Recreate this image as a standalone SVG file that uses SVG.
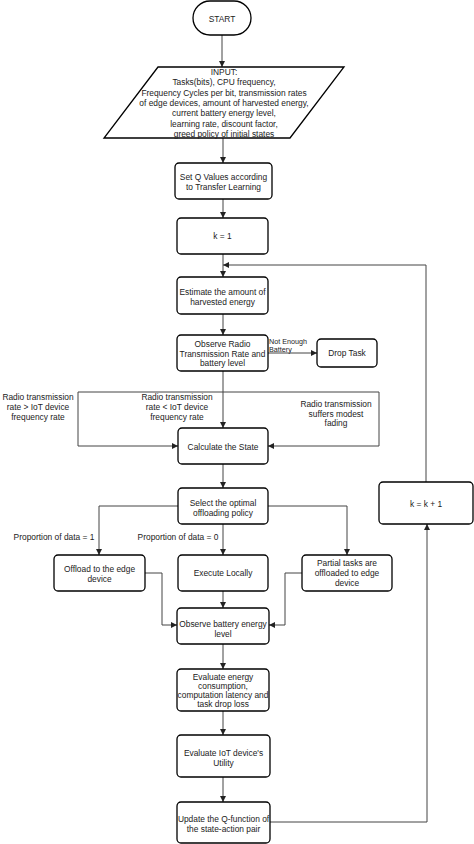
<svg xmlns="http://www.w3.org/2000/svg" width="474" height="844" viewBox="0 0 474 844">
<defs>
<style>
.n{fill:#fff;stroke:#000;stroke-width:1.3}
.t{font-family:"Liberation Sans",Arial,sans-serif;font-size:8.4px;fill:#222;text-anchor:middle}
.s{font-family:"Liberation Sans",Arial,sans-serif;font-size:7.2px;fill:#222}
.c{fill:none;stroke:#444;stroke-width:1}
.a{marker-end:url(#ar)}
</style>
<marker id="ar" markerUnits="userSpaceOnUse" markerWidth="8" markerHeight="8" refX="6" refY="3" orient="auto">
<path d="M0,0 L6,3 L0,6 Z" fill="#222"/>
</marker>
</defs>
<rect width="474" height="844" fill="#fff"/>
<g id="connectors">
<path class="c a" d="M222 35 V67"/>
<path class="c a" d="M223 138 V163"/>
<path class="c a" d="M223 199 V218"/>
<path class="c a" d="M223 254 V277"/>
<path class="c a" d="M223 314 V335"/>
<path class="c a" d="M268 353 H317"/>
<path class="c a" d="M223 371 V428"/>
<path class="c a" d="M223 392 H78 V446 H178"/>
<path class="c a" d="M223 392 H379 V446 H268"/>
<path class="c a" d="M223 464 V488"/>
<path class="c a" d="M178 506 H99 V555"/>
<path class="c a" d="M223 524 V555"/>
<path class="c a" d="M268 506 H347 V555"/>
<path class="c a" d="M145 573 H162 V625 H177"/>
<path class="c a" d="M223 591 V608"/>
<path class="c a" d="M302 573 H285 V625 H269"/>
<path class="c a" d="M223 644 V669"/>
<path class="c a" d="M223 711 V735"/>
<path class="c a" d="M223 777 V802"/>
<path class="c a" d="M270 822 H427 V524"/>
<path class="c a" d="M426 482 V265 H223"/>
<text class="s" x="269" y="343.5">Not Enough</text>
<text class="s" x="269" y="351.5">Battery</text>
<text class="t" x="38" y="400">Radio transmission</text>
<text class="t" x="38" y="410">rate &gt; IoT device</text>
<text class="t" x="38" y="420">frequency rate</text>
<text class="t" x="177" y="400">Radio transmission</text>
<text class="t" x="177" y="410">rate &lt; IoT device</text>
<text class="t" x="177" y="420">frequency rate</text>
<text class="t" x="336" y="407">Radio transmission</text>
<text class="t" x="336" y="417">suffers modest</text>
<text class="t" x="336" y="426">fading</text>
<text class="t" x="54" y="540">Proportion of data = 1</text>
<text class="t" x="178" y="540">Proportion of data = 0</text>
</g>
<g id="start">
<rect class="n" x="193" y="1" width="58" height="34" rx="17"/>
<text class="t" x="222" y="22">START</text>
</g>
<g id="input">
<path class="n" d="M158 67 H344 L290 138 H104 Z"/>
<text class="t" x="224" y="75">INPUT:</text>
<text class="t" x="224" y="85.3">Tasks(bits), CPU frequency,</text>
<text class="t" x="224" y="95.6">Frequency Cycles per bit, transmission rates</text>
<text class="t" x="224" y="105.9">of edge devices, amount of harvested energy,</text>
<text class="t" x="224" y="116.2">current battery energy level,</text>
<text class="t" x="224" y="126.5">learning rate, discount factor,</text>
<text class="t" x="224" y="136.6">greed policy of initial states</text>
</g>
<g id="setq">
<rect class="n" x="175" y="163" width="97" height="36" rx="4"/>
<text class="t" x="223.5" y="180">Set Q Values according</text>
<text class="t" x="223.5" y="190">to Transfer Learning</text>
</g>
<g id="k1">
<rect class="n" x="177" y="218" width="91" height="36" rx="4"/>
<text class="t" x="222.5" y="239">k = 1</text>
</g>
<g id="estimate">
<rect class="n" x="177" y="277" width="91" height="37" rx="4"/>
<text class="t" x="222.5" y="295">Estimate the amount of</text>
<text class="t" x="222.5" y="305">harvested energy</text>
</g>
<g id="observe-radio">
<rect class="n" x="177" y="335" width="91" height="36" rx="4"/>
<text class="t" x="222.5" y="347">Observe Radio</text>
<text class="t" x="222.5" y="356.5">Transmission Rate and</text>
<text class="t" x="222.5" y="366">battery level</text>
</g>
<g id="drop">
<rect class="n" x="317" y="339" width="60" height="28" rx="4"/>
<text class="t" x="347" y="356">Drop Task</text>
</g>
<g id="calculate">
<rect class="n" x="178" y="428" width="90" height="36" rx="4"/>
<text class="t" x="223" y="450">Calculate the State</text>
</g>
<g id="select">
<rect class="n" x="178" y="488" width="90" height="36" rx="4"/>
<text class="t" x="223" y="506">Select the optimal</text>
<text class="t" x="223" y="515.5">offloading policy</text>
</g>
<g id="offload">
<rect class="n" x="54" y="555" width="91" height="36" rx="4"/>
<text class="t" x="99.5" y="572">Offload to the edge</text>
<text class="t" x="99.5" y="582">device</text>
</g>
<g id="execute">
<rect class="n" x="178" y="555" width="90" height="36" rx="4"/>
<text class="t" x="223" y="576">Execute Locally</text>
</g>
<g id="partial">
<rect class="n" x="302" y="555" width="90" height="36" rx="4"/>
<text class="t" x="347" y="566">Partial tasks are</text>
<text class="t" x="347" y="576">offloaded to edge</text>
<text class="t" x="347" y="585.5">device</text>
</g>
<g id="kinc">
<rect class="n" x="379" y="482" width="94" height="42" rx="4"/>
<text class="t" x="426" y="507">k = k + 1</text>
</g>
<g id="observe-battery">
<rect class="n" x="177" y="608" width="92" height="36" rx="4"/>
<text class="t" x="223" y="627">Observe battery energy</text>
<text class="t" x="223" y="636.5">level</text>
</g>
<g id="eval-energy">
<rect class="n" x="177" y="669" width="92" height="42" rx="4"/>
<text class="t" x="223" y="680">Evaluate energy</text>
<text class="t" x="223" y="689">consumption,</text>
<text class="t" x="223" y="698">computation latency and</text>
<text class="t" x="223" y="707">task drop loss</text>
</g>
<g id="eval-iot">
<rect class="n" x="177" y="735" width="93" height="42" rx="4"/>
<text class="t" x="223.5" y="756">Evaluate IoT device's</text>
<text class="t" x="223.5" y="765.5">Utility</text>
</g>
<g id="update">
<rect class="n" x="177" y="802" width="93" height="41" rx="4"/>
<text class="t" x="223.5" y="822">Update the Q-function of</text>
<text class="t" x="223.5" y="831.5">the state-action pair</text>
</g>
</svg>
